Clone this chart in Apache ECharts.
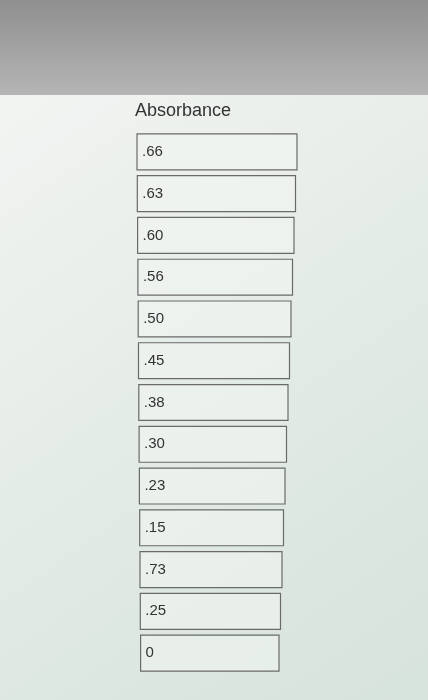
<!DOCTYPE html>
<html><head><meta charset="utf-8">
<script src="https://cdn.jsdelivr.net/npm/echarts@6/dist/echarts.min.js"></script>
<style>html,body{margin:0;padding:0;background:#e6ebe7}#c{width:428px;height:700px}</style>
</head><body><div id="c"></div>
<script>
const columnTitle = 'Absorbance';
const rowLabels = ['.66','.63','.60','.56','.50','.45','.38','.30','.23','.15','.73','.25','0'];
const rowValues = [0.66,0.63,0.60,0.56,0.50,0.45,0.38,0.30,0.23,0.15,0.73,0.25,0];
const rows = rowLabels.map((l,i)=>i);
const chart = echarts.init(document.getElementById('c'));
chart.setOption({
  animation:false,
  graphic:[
    {type:'rect',left:0,top:0,shape:{width:428,height:95},style:{fill:new echarts.graphic.LinearGradient(0,0,0,1,[{offset:0,color:'#8f8f8f'},{offset:1,color:'#b5b5b5'}])},z:-10},
    {type:'rect',left:0,top:95,shape:{width:428,height:605},style:{fill:new echarts.graphic.LinearGradient(0,0,1,1,[{offset:0,color:'#f2f4f2'},{offset:0.5,color:'#e3ebe6'},{offset:1,color:'#d6e2dc'}])},z:-10},
    {type:'text',left:135,top:102,style:{text:columnTitle,font:'18px "Liberation Sans", Arial',fill:'#333'}}
  ],
  grid:{left:137,right:130,top:131,bottom:26},
  xAxis:{type:'value',min:0,max:1,show:false},
  yAxis:{type:'category',data:rows,inverse:true,show:false},
  series:[{
    type:'custom',
    data:rowValues.map((v,i)=>[i,v]),
    renderItem:(params,api)=>{
      const i=api.value(0);
      const p=api.coord([0,i]);
      const size=api.size([1,1]);
      const h=size[1]*0.86;
      const w=160-i*1.8;
      const x=p[0]+i*0.3;
      return {type:'group',children:[
        {type:'rect',shape:{x:x,y:p[1]-h/2,width:w,height:h},style:{fill:'rgba(240,245,242,0.6)',stroke:'#6a6a6a',lineWidth:1.2}},
        {type:'text',style:{x:x+5,y:p[1],text:rowLabels[i],font:'15px "Liberation Sans", Arial',fill:'#333',verticalAlign:'middle'}}
      ]};
    }
  }]
});
</script></body></html>
